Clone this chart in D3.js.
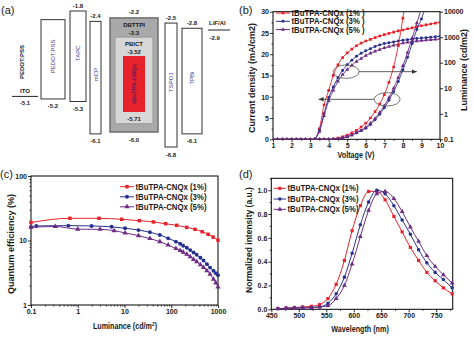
<!DOCTYPE html>
<html>
<head>
<meta charset="utf-8">
<script src="https://cdn.jsdelivr.net/npm/d3@7"></script>
<style>
  body { margin: 0; background: #fff; }
  text { font-family: "Liberation Sans", Arial, sans-serif; fill: #1a1a1a; }
</style>
</head>
<body>
<svg id="fig" width="474" height="339"></svg>
<script>
// ---------- (a) energy level diagram ----------
const layerNames = ["PEDOT:PSS", "TAPC", "mCP", "DBTTPI", "TSPO1", "TPBi"];
const layerLumo = [-2.3, -1.8, -2.4, -2.2, -2.5, -2.8];   // PEDOT:PSS top is not labelled
const layerHomo = [-5.2, -5.3, -6.1, -6.0, -6.8, -6.1];
const lumoLabelled = [false, true, true, true, true, true];
const electrodeNames = ["ITO", "LiF/Al"];
const electrodeLevels = [-5.1, -2.9];
const hostName = "PBICT";
const hostBox = [-3.07, -5.88];
const hostLumoText = "-3.3";
const dopantName = "tBuTPA-CNQx";
const dopantLevels = [-3.52, -5.71];

// ---------- shared series ----------
const dopingLabels = ["tBuTPA-CNQx (1%)", "tBuTPA-CNQx (3%)", "tBuTPA-CNQx (5%)"];

// ---------- (b) J-V-L ----------
const voltage = [1, 1.25, 1.5, 1.75, 2, 2.25, 2.5, 2.75, 3, 3.25, 3.5, 3.75, 4, 4.25, 4.5, 4.75, 5,
  5.25, 5.5, 5.75, 6, 6.25, 6.5, 6.75, 7, 7.25, 7.5, 7.75, 8, 8.25, 8.5, 8.75, 9, 9.25, 9.5, 9.75, 10];
const currentDensity1 = [0, 0, 0, 0, 0, 0, 0, 0, 0, 0, 0, 0, 0, 0.1, 0.3, 0.6, 1.0, 1.5, 2.1, 2.9, 3.8,
  5.0, 6.5, 8.3, 10.5, 13.4, 17.0, 22.0, 28.5, 36, null, null, null, null, null, null, null];
const currentDensity3 = [0, 0, 0, 0, 0, 0, 0, 0, 0, 0, 0, 0, 0, 0, 0.1, 0.3, 0.6, 1.0, 1.5, 2.0, 2.6,
  3.5, 4.6, 5.9, 7.4, 9.2, 11.2, 13.6, 16.3, 19.3, 22.5, 25.8, 28.3, 31.5, null, null, null];
const currentDensity5 = [0, 0, 0, 0, 0, 0, 0, 0, 0, 0, 0, 0, 0, 0, 0.1, 0.3, 0.6, 1.0, 1.6, 2.1, 2.8,
  3.8, 4.9, 6.3, 7.9, 9.8, 12.0, 14.5, 17.3, 20.4, 23.8, 27.3, 30.8, null, null, null, null];
const luminance1 = [null, null, null, null, null, null, null, null, null, 0.1, 0.26, 2.2, 8.3, 32, 83,
  158, 242, 341, 464, 584, 708, 825, 962, 1120, 1260, 1410, 1580, 1780, 1920, 2150, 2330, 2610, 2820,
  3040, 3290, 3550, 3830];
const luminance3 = [null, null, null, null, null, null, null, null, null, 0.1, 0.22, 1.0, 4.3, 11.2, 26,
  50, 83, 126, 178, 233, 293, 355, 430, 501, 562, 607, 656, 708, 764, 794, 858, 891, 926, 962, 1000,
  1040, 1080];
const luminance5 = [null, null, null, null, null, null, null, null, null, 0.1, 0.2, 0.83, 3.2, 8.3, 18.5,
  34, 54, 79, 112, 147, 192, 233, 282, 329, 383, 430, 482, 521, 584, 631, 681, 708, 736, 764, 794,
  825, 858];
const voltTicks = [1, 2, 3, 4, 5, 6, 7, 8, 9, 10];
const jTicks = [0, 5, 10, 15, 20, 25, 30];
const lumTicks = [0.1, 1, 10, 100, 1000, 10000];
// ellipse annotations: centre (V, J) and arrow tip voltage
const annoVolt = [4.94, 7.15];
const annoJ = [15.9, 9.4];
const annoArrowTo = [8.75, 3.46];

// ---------- (c) EQE vs luminance ----------
const eqeLum1 = [0.1, 0.68, 2.85, 8.7, 20.7, 41.5, 76, 131, 214, 322, 459, 614, 786, 1000];
const eqe1 = [19, 22.1, 22.1, 21.3, 20.3, 19.4, 18.2, 17.2, 16, 14.9, 13.7, 12.5, 11.3, 10.1];
const eqeLum3 = [0.1, 0.13, 0.63, 1.98, 5.3, 10.3, 19.9, 35, 57, 86, 126, 155, 180, 215, 254, 300, 350,
  420, 490, 580, 676, 800, 900, 1000];
const eqe3 = [16.2, 16.8, 17, 16.8, 16.3, 15.5, 14.5, 13.4, 12.2, 10.8, 9.6, 8.9, 8.3, 7.7, 7.1, 6.5, 6.0,
  5.4, 4.9, 4.3, 3.8, 3.4, 3.1, 2.9];
const eqeLum5 = [0.1, 0.33, 1, 3, 6, 10.3, 20, 35, 57, 86, 126, 155, 180, 215, 254, 300, 350, 420, 490,
  580, 676, 800, 900, 1000];
const eqe5 = [16, 16.5, 15, 14.9, 14.2, 13.1, 11.9, 10.7, 9.6, 8.5, 7.5, 7.0, 6.6, 6.1, 5.6, 5.1, 4.7,
  4.2, 3.8, 3.4, 3.0, 2.5, 2.2, 1.9];
const lumTicksC = [0.1, 1, 10, 100, 1000];
const eqeTicks = [1, 10, 100];

// ---------- (d) EL spectra ----------
const wavelength = [462, 477, 492, 507, 523, 538, 553, 568, 583, 597, 612, 627, 642, 657, 673, 688, 703,
  718, 733, 748, 763, 779];
const intensity1 = [0.005, 0.01, 0.015, 0.02, 0.025, 0.04, 0.09, 0.21, 0.41, 0.66, 0.87, 0.99, 0.99, 0.92,
  0.78, 0.65, 0.52, 0.41, 0.31, 0.24, 0.18, 0.13];
const intensity3 = [0.005, 0.008, 0.01, 0.012, 0.015, 0.02, 0.05, 0.13, 0.27, 0.47, 0.71, 0.90, 1.0, 0.97,
  0.87, 0.75, 0.63, 0.50, 0.39, 0.31, 0.25, 0.18];
const intensity5 = [0.005, 0.008, 0.01, 0.012, 0.015, 0.02, 0.03, 0.09, 0.20, 0.38, 0.61, 0.83, 0.97, 0.99,
  0.93, 0.82, 0.69, 0.57, 0.45, 0.36, 0.29, 0.22];
const waveTicks = [450, 500, 550, 600, 650, 700, 750];
const intTicks = [0, 0.2, 0.4, 0.6, 0.8, 1.0];

// ---------- styles ----------
const seriesColors = ["#e62129", "#26318f", "#6d2b84"];
const seriesSymbols = [d3.symbolSquare, d3.symbolCircle, d3.symbolTriangle];

const svg = d3.select("#fig");
const defs = svg.append("defs");
defs.append("marker").attr("id", "arrow")
  .attr("markerWidth", 6).attr("markerHeight", 6).attr("refX", 5).attr("refY", 3)
  .attr("orient", "auto").attr("markerUnits", "userSpaceOnUse")
  .append("path").attr("d", "M0,0.8 L5,3 L0,5.2 Z").attr("fill", "#333");

function styleAxis(g) {
  g.select(".domain").remove();
  g.selectAll("line").attr("stroke", "#000").attr("stroke-width", 0.8);
  g.selectAll("text").attr("font-size", 7).attr("font-weight", "bold").attr("fill", "#1a1a1a");
}

function minorLog(lo, hi) {
  const out = [];
  for (let d = lo; d < hi; d *= 10) for (let k = 2; k <= 9; k++) out.push(d * k);
  return out;
}

function frame(g, x, y) {
  g.append("rect")
    .attr("x", x.range()[0]).attr("y", y.range()[1])
    .attr("width", x.range()[1] - x.range()[0]).attr("height", y.range()[0] - y.range()[1])
    .attr("fill", "none").attr("stroke", "#000").attr("stroke-width", 1);
}

function drawSeries(g, xs, ys, xScale, yScale, i, area, width) {
  const pts = xs.map((x, k) => [x, ys[k]]).filter(p => p[1] != null);
  g.append("path").datum(pts)
    .attr("fill", "none").attr("stroke", seriesColors[i]).attr("stroke-width", width)
    .attr("d", d3.line().x(p => xScale(p[0])).y(p => yScale(p[1])).curve(d3.curveMonotoneX));
  g.selectAll(null).data(pts).enter().append("path")
    .attr("transform", p => `translate(${xScale(p[0])},${yScale(p[1])})`)
    .attr("d", d3.symbol().type(seriesSymbols[i]).size(area))
    .attr("fill", seriesColors[i]);
}

function drawLegend(g, labels, x0, x1, rows, area) {
  labels.forEach((lab, i) => {
    g.append("line").attr("x1", x0).attr("x2", x1).attr("y1", rows[i]).attr("y2", rows[i])
      .attr("stroke", seriesColors[i]).attr("stroke-width", 1);
    g.append("path").attr("transform", `translate(${(x0 + x1) / 2},${rows[i]})`)
      .attr("d", d3.symbol().type(seriesSymbols[i]).size(area)).attr("fill", seriesColors[i]);
    g.append("text").attr("transform", `translate(${x1 + 1.5},${rows[i] + 3}) scale(0.92,1)`)
      .attr("font-size", 8.5).attr("font-weight", "bold").attr("fill", seriesColors[i]).text(lab);
  });
}

function hTitle(g, x, y, str, size) {
  return g.append("text").attr("transform", `translate(${x},${y}) scale(0.8,1)`)
    .attr("text-anchor", "middle").attr("font-size", size).attr("font-weight", "bold").text(str);
}
function vTitle(g, x, y, str, size) {
  return g.append("text").attr("transform", `translate(${x},${y}) rotate(-90)`)
    .attr("text-anchor", "middle").attr("font-size", size).attr("font-weight", "bold").text(str);
}
function panelLetter(x, y, str) {
  svg.append("text").attr("x", x).attr("y", y).attr("font-size", 11).attr("fill", "#222").text(str);
}

// =================== (a) ===================
const pa = svg.append("g");
// schematic (not-to-scale) energy axis, broken into segments like the drawing
const yA = d3.scaleLinear()
  .domain([-1.8, -2.9, -3.52, -5.71, -6.0, -6.8])
  .range([11, 30, 56, 112, 132, 147]);
const fmtE = v => (Math.abs(Math.round(v * 10) - v * 10) < 1e-9 ? v.toFixed(1) : v.toFixed(2));

// column layout: ITO, layers..., LiF/Al
const colWidth = [26, 24, 16, 11, 48, 12, 20, 22];
const colGap = [3, 5, 4, 9, 7, 5, 6];
const colX = [12];
for (let i = 1; i < colWidth.length; i++) colX.push(colX[i - 1] + colWidth[i - 1] + colGap[i - 1]);

function numLabel(x, y, v) {
  pa.append("text").attr("x", x).attr("y", y).attr("text-anchor", "middle")
    .attr("font-size", 6).attr("font-weight", "bold").text(typeof v === "number" ? fmtE(v) : v);
}

// electrodes
[0, 1].forEach(i => {
  const c = i === 0 ? 0 : colWidth.length - 1;
  const x0 = colX[c], x1 = colX[c] + colWidth[c], y = yA(electrodeLevels[i]);
  pa.append("line").attr("x1", x0).attr("x2", x1).attr("y1", y).attr("y2", y)
    .attr("stroke", "#222").attr("stroke-width", 1);
  if (i === 0) {
    numLabel((x0 + x1) / 2, y - 3.5, electrodeNames[i]);
    numLabel((x0 + x1) / 2, y + 9, electrodeLevels[i]);
  } else {
    pa.append("text").attr("x", x0 + 1).attr("y", y - 5).attr("font-size", 6)
      .attr("font-weight", "bold").text(electrodeNames[i]);
    pa.append("text").attr("x", x0 + 1.5).attr("y", y + 9.5).attr("font-size", 6)
      .attr("font-weight", "bold").text(fmtE(electrodeLevels[i]));
  }
});
// PEDOT:PSS caption above ITO
pa.append("text").attr("transform", `translate(${colX[0] + colWidth[0] / 2 - 1},62) rotate(-90)`)
  .attr("text-anchor", "middle").attr("font-size", 6).attr("font-weight", "bold").text(layerNames[0]);

// layers
layerNames.forEach((name, i) => {
  const c = i + 1;
  const x0 = colX[c], w = colWidth[c];
  const yt = yA(layerLumo[i]), yb = yA(layerHomo[i]);
  const isMix = name === "DBTTPI";
  pa.append("rect").attr("x", x0).attr("y", yt).attr("width", w).attr("height", yb - yt)
    .attr("fill", isMix ? "#a9a9a9" : "#fff")
    .attr("stroke", isMix ? "#6f6f6f" : "#333").attr("stroke-width", isMix ? 1.5 : 1);
  if (lumoLabelled[i]) numLabel(x0 + w / 2, yt - 3.5, layerLumo[i]);
  numLabel(x0 + w / 2, yb + 9.5, layerHomo[i]);
  if (isMix) {
    const hx0 = x0 + 5, hw = w - 10;
    const hyT = yA(hostBox[0]), hyB = yA(hostBox[1]);
    pa.append("rect").attr("x", hx0).attr("y", hyT).attr("width", hw).attr("height", hyB - hyT)
      .attr("fill", "#d7d7d7").attr("stroke", "#9a9a9a").attr("stroke-width", 1);
    const dx0 = hx0 + 8, dw = hw - 16;
    const dyT = yA(dopantLevels[0]), dyB = yA(dopantLevels[1]);
    pa.append("rect").attr("x", dx0).attr("y", dyT).attr("width", dw).attr("height", dyB - dyT)
      .attr("fill", "#e8222a");
    const cx = x0 + w / 2;
    numLabel(cx, yt + 9, name);
    numLabel(cx, yt + 17.5, hostLumoText);
    numLabel(cx, hyT + 8.5, hostName);
    numLabel(cx, dyT - 2.5, dopantLevels[0]);
    numLabel(cx, dyB + 8.5, dopantLevels[1]);
    pa.append("text").attr("transform", `translate(${cx + 2},${(dyT + dyB) / 2}) rotate(-90)`)
      .attr("text-anchor", "middle").attr("font-size", 6).attr("font-weight", "bold")
      .style("fill", "#5a1d5e").text(dopantName);
  } else {
    pa.append("text").attr("transform", `translate(${x0 + w / 2 + 2},${(yt + yb) / 2 - 3}) rotate(-90)`)
      .attr("text-anchor", "middle").attr("font-size", 6).style("fill", "#3b3b96").text(name);
  }
});
panelLetter(1, 14, "(a)");

// =================== (b) ===================
const pb = svg.append("g");
const xB = d3.scaleLinear().domain([1, 10]).range([273, 440]);
const yJ = d3.scaleLinear().domain([0, 30]).range([139.3, 11.7]);
const yLum = d3.scaleLog().domain([0.1, 10000]).range([139.3, 11.7]);
defs.append("clipPath").attr("id", "clipB").append("rect")
  .attr("x", 273).attr("y", 11.7).attr("width", 167).attr("height", 127.6);

pb.append("g").attr("transform", "translate(0,139.3)")
  .call(d3.axisBottom(xB).tickValues(voltTicks).tickSize(3).tickPadding(1).tickSizeOuter(0)).call(styleAxis);
pb.append("g").attr("transform", "translate(0,139.3)")
  .call(d3.axisBottom(xB).tickValues(voltTicks.slice(0, -1).map(v => v + 0.5)).tickSize(1.5).tickFormat("")).call(styleAxis);
pb.append("g").attr("transform", "translate(273,0)")
  .call(d3.axisLeft(yJ).tickValues(jTicks).tickSize(3).tickPadding(1).tickSizeOuter(0)).call(styleAxis);
pb.append("g").attr("transform", "translate(273,0)")
  .call(d3.axisLeft(yJ).tickValues(jTicks.slice(0, -1).map(v => v + 2.5)).tickSize(1.5).tickFormat("")).call(styleAxis);
pb.append("g").attr("transform", "translate(440,0)")
  .call(d3.axisRight(yLum).tickValues(lumTicks).tickSize(3).tickPadding(1).tickSizeOuter(0)
    .tickFormat(d => (d < 1 ? "0.1" : d3.format("d")(d)))).call(styleAxis);
frame(pb, xB, yJ);

const plotB = pb.append("g").attr("clip-path", "url(#clipB)");
[luminance1, luminance3, luminance5].forEach((ys, i) => drawSeries(plotB, voltage, ys, xB, yLum, i, 7, 0.9));
[currentDensity1, currentDensity3, currentDensity5].forEach((ys, i) => drawSeries(plotB, voltage, ys, xB, yJ, i, 7, 0.9));

annoVolt.forEach((v, i) => {
  const cx = xB(v), cy = yJ(annoJ[i]), rx = 13, ry = 6.7;
  pb.append("ellipse").attr("cx", cx).attr("cy", cy).attr("rx", rx).attr("ry", ry)
    .attr("fill", "none").attr("stroke", "#555").attr("stroke-width", 0.8);
  const tip = xB(annoArrowTo[i]);
  const start = tip > cx ? cx + rx : cx - rx;
  pb.append("line").attr("x1", start).attr("x2", tip).attr("y1", cy).attr("y2", cy)
    .attr("stroke", "#333").attr("stroke-width", 0.8).attr("marker-end", "url(#arrow)");
});
drawLegend(pb, dopingLabels.map(s => s.replace("%)", "% )")), 276, 290, [13, 21.3, 29.6], 7);
vTitle(pb, 254.5, 78, "Current density (mA/cm2)", 9);
vTitle(pb, 467, 70, "Luminance (cd/m2)", 9);
hTitle(pb, 356, 158, "Voltage (V)", 9);
panelLetter(239, 14, "(b)");

// =================== (c) ===================
const pc = svg.append("g");
const xC = d3.scaleLog().domain([0.1, 1000]).range([31, 218]);
const yC = d3.scaleLog().domain([1, 100]).range([305, 176]);
pc.append("g").attr("transform", "translate(0,305)")
  .call(d3.axisBottom(xC).tickValues(lumTicksC).tickSize(3).tickPadding(1).tickSizeOuter(0)
    .tickFormat(d => (d < 1 ? "0.1" : d3.format("d")(d)))).call(styleAxis);
pc.append("g").attr("transform", "translate(0,305)")
  .call(d3.axisBottom(xC).tickValues(minorLog(0.1, 1000)).tickSize(1.5).tickFormat("")).call(styleAxis);
pc.append("g").attr("transform", "translate(31,0)")
  .call(d3.axisLeft(yC).tickValues(eqeTicks).tickSize(3).tickPadding(1).tickSizeOuter(0)
    .tickFormat(d3.format("d"))).call(styleAxis);
pc.append("g").attr("transform", "translate(31,0)")
  .call(d3.axisLeft(yC).tickValues(minorLog(1, 100)).tickSize(1.5).tickFormat("")).call(styleAxis);
frame(pc, xC, yC);
[[eqeLum1, eqe1], [eqeLum3, eqe3], [eqeLum5, eqe5]].forEach((s, i) => drawSeries(pc, s[0], s[1], xC, yC, i, 12, 1));
drawLegend(pc, dopingLabels, 120, 134, [186.7, 196.8, 206.8], 12);
vTitle(pc, 13.5, 244, "Quantum efficiency (%)", 9);
const lumTitle = hTitle(pc, 125, 329, "Luminance (cd/m", 9);
lumTitle.append("tspan").attr("font-size", 6).attr("dy", -3.5).text("2");
lumTitle.append("tspan").attr("dy", 3.5).text(")");
panelLetter(0, 178, "(c)");

// =================== (d) ===================
const pd = svg.append("g");
const xD = d3.scaleLinear().domain([450, 780]).range([271.3, 452.7]);
const yD = d3.scaleLinear().domain([0, 1.1]).range([309.3, 178.3]);
pd.append("g").attr("transform", "translate(0,309.3)")
  .call(d3.axisBottom(xD).tickValues(waveTicks).tickSize(3).tickPadding(1).tickSizeOuter(0)).call(styleAxis);
pd.append("g").attr("transform", "translate(0,309.3)")
  .call(d3.axisBottom(xD).tickValues(waveTicks.map(v => v + 25)).tickSize(1.5).tickFormat("")).call(styleAxis);
pd.append("g").attr("transform", "translate(271.3,0)")
  .call(d3.axisLeft(yD).tickValues(intTicks).tickSize(3).tickPadding(1).tickSizeOuter(0)
    .tickFormat(d3.format(".1f"))).call(styleAxis);
pd.append("g").attr("transform", "translate(271.3,0)")
  .call(d3.axisLeft(yD).tickValues(intTicks.map(v => v + 0.1)).tickSize(1.5).tickFormat("")).call(styleAxis);
frame(pd, xD, yD);
[intensity1, intensity3, intensity5].forEach((ys, i) => drawSeries(pd, wavelength, ys, xD, yD, i, 10, 1));
drawLegend(pd, dopingLabels, 273.7, 286, [188.3, 199, 209.3], 10);
vTitle(pd, 252, 240, "Normalized intensity (a.u.)", 8.5);
hTitle(pd, 360, 332, "Wavelength (nm)", 9);
panelLetter(239, 178, "(d)");
</script>
</body>
</html>
